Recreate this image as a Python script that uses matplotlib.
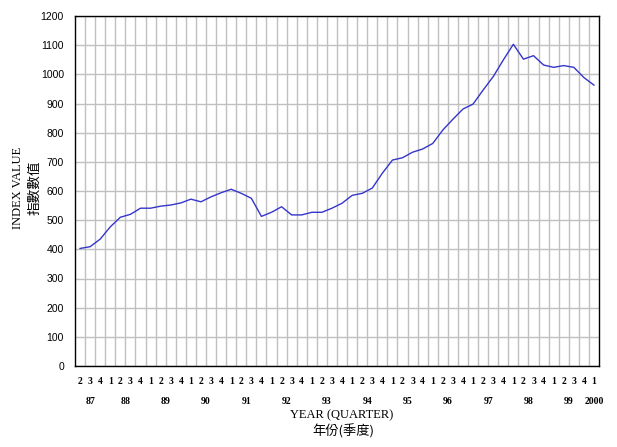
import matplotlib
matplotlib.use("Agg")
import matplotlib.pyplot as plt
from matplotlib.ticker import FixedLocator
import matplotlib.transforms as mtransforms
import numpy as np

# ---- data ----
years = ["87"] * 3 + [y for y in ["88", "89", "90", "91", "92", "93", "94", "95", "96", "97", "98", "99"] for _ in range(4)] + ["2000"]
quarters = [2, 3, 4] + [1, 2, 3, 4] * 12 + [1]
values = [403, 409, 435, 477, 510, 520, 541, 541, 548, 552, 559, 572,
          563, 580, 594, 606, 592, 575, 513, 527, 546, 518, 518, 527,
          527, 541, 558, 585, 592, 610, 661, 706, 714, 733, 744, 763,
          809, 846, 881, 898, 946, 992, 1049, 1103, 1052, 1064, 1032, 1024,
          1030, 1024, 989, 963]
y_ticks = list(range(0, 1201, 100))
ylabel_en = "INDEX VALUE"
ylabel_zh = "指數數值"
xlabel_en = "YEAR (QUARTER)"
xlabel_zh = "年份(季度)"

W, H = 617, 447
fig = plt.figure(figsize=(W / 100, H / 100), dpi=100)
ax = fig.add_axes([75 / W, 1 - 366 / H, 524 / W, 350 / H])

x = np.arange(len(values))
ax.plot(x, values, color="#3535cc", lw=1.0, zorder=3)

ax.set_xlim(-0.5, len(values) - 0.5)
ax.set_ylim(0, 1200)

# grid
ax.yaxis.set_major_locator(FixedLocator(y_ticks))
ax.xaxis.set_major_locator(FixedLocator(x))
ax.xaxis.set_minor_locator(FixedLocator(np.arange(0.5, len(values) - 1, 1.0)))
ax.grid(True, which="major", axis="y", color="#c0c0c0", lw=1.0, zorder=0)
ax.grid(True, which="minor", axis="x", color="#c0c0c0", lw=1.0, zorder=0)
ax.set_axisbelow(True)

for s in ax.spines.values():
    s.set_color("black")
    s.set_linewidth(1.0)

ax.set_yticklabels([str(v) for v in y_ticks], fontsize=7.5, family="Liberation Sans")
ax.set_xticklabels([str(q) for q in quarters], fontsize=7, family="Liberation Serif", fontweight="bold")
ax.tick_params(axis="both", which="both", length=0)
ax.tick_params(axis="y", pad=8)
ax.tick_params(axis="x", pad=8)

# year labels
trans = mtransforms.blended_transform_factory(ax.transData, fig.transFigure)
seen = []
for yv in years:
    if yv not in seen:
        seen.append(yv)
for yv in seen:
    idx = [i for i, v in enumerate(years) if v == yv]
    xc = np.mean(idx)
    ax.text(xc, 1 - 401 / H, yv, transform=trans, ha="center", va="center",
            fontsize=7, family="Liberation Serif", fontweight="bold")

# axis titles
fig.text(18 / W, 1 - 188 / H, ylabel_en, rotation=90, ha="center", va="center",
         fontsize=9, family="Liberation Serif")
fig.text(34 / W, 1 - 188 / H, ylabel_zh, rotation=90, ha="center", va="center",
         fontsize=9.8, family=["Noto Sans CJK TC", "DejaVu Sans"])
fig.text(342 / W, 1 - 415 / H, xlabel_en, ha="center", va="center",
         fontsize=9, family="Liberation Serif")
fig.text(343 / W, 1 - 431 / H, xlabel_zh, ha="center", va="center",
         fontsize=9.5, family=["Noto Sans CJK TC", "DejaVu Sans"])

fig.savefig("out.png", dpi=100)
